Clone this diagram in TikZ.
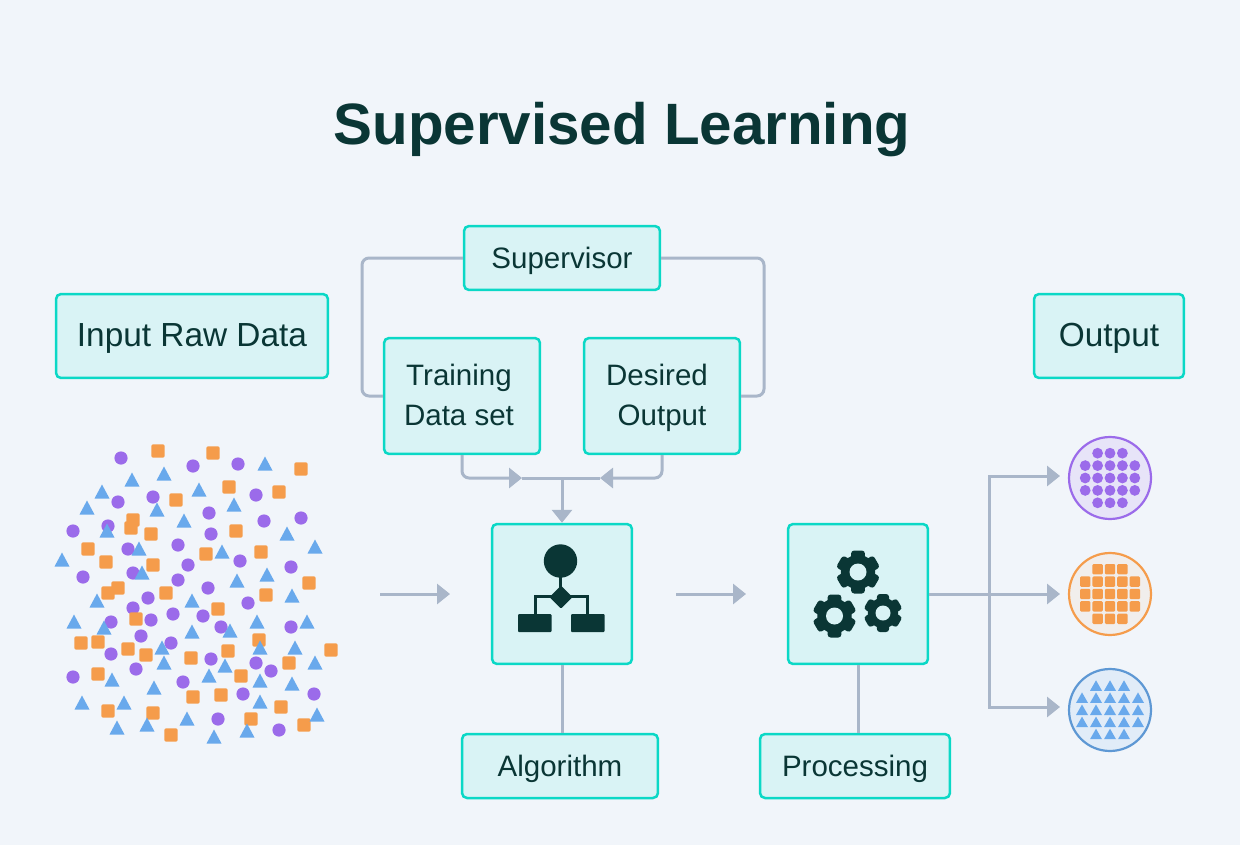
\documentclass[tikz,border=0pt]{standalone}
\usepackage{fontspec}
\setmainfont{Liberation Sans}
\usetikzlibrary{arrows.meta}
\definecolor{pagebg}{HTML}{F1F5FA}
\definecolor{boxfill}{HTML}{D9F3F5}
\definecolor{boxedge}{HTML}{0BD8C6}
\definecolor{ink}{HTML}{0A3635}
\definecolor{wirecol}{HTML}{A9B6C9}
\definecolor{dotpurple}{HTML}{9B6BEA}
\definecolor{dotorange}{HTML}{F59C4B}
\definecolor{dotblue}{HTML}{69A9EC}
\newcommand{\px}{0.569pt}
\newcommand{\clustergrid}[1]{%
    \foreach \j in {-2,2} \foreach \i in {-1,0,1} {#1}
    \foreach \j in {-1,0,1} \foreach \i in {-2,...,2} {#1}}
\newcommand{\gearicon}[4]{% x, y, outer radius, hole radius
    \fill[ink] (#1,#2) circle (#3*0.8);
    \foreach \a in {0,60,...,300}
        \fill[ink,rounded corners=3*\px,rotate around={\a:(#1,#2)}] (#1-#3*0.32,#2-#3) rectangle (#1+#3*0.32,#2);
    \fill[boxfill] (#1,#2) circle (#4);}
\tikzset{
    box/.style={draw=boxedge,fill=boxfill,line width=2.5*\px,rounded corners=5*\px,text=ink,
        inner sep=0pt,align=center,font=\fontsize{16.8}{22.7}\selectfont},
    bigbox/.style={box,font=\fontsize{19}{22.7}\selectfont},
    oneline/.style={text height=12pt,text depth=0pt},
    twolines/.style={text height=34pt,text depth=0pt},
    boxsize/.style 2 args={minimum width=#1*\px,minimum height=#2*\px},
    wire/.style={draw=wirecol,line width=3*\px},
    flow/.style={wire,-{Triangle[length=7.4pt,width=11.4pt]}},
    cluster/.style={circle,line width=2.2*\px,minimum size=82*\px,inner sep=0pt},
}
\begin{document}
\begin{tikzpicture}[x=0.02cm,y=-0.02cm]
    \useasboundingbox (0,0) rectangle (1240,845);
    \fill[pagebg] (0,0) rectangle (1240,845);
    \node[text=ink,font=\fontsize{33.2}{42}\selectfont\bfseries,text height=25pt,text depth=0pt] (title) at (622,122.5) {Supervised Learning};

    % boxes
    \node[bigbox,oneline,boxsize={272}{84}] (input) at (192,336) {Input Raw Data};
    \node[bigbox,oneline,boxsize={150}{84}] (output) at (1109,336) {Output};
    \node[box,oneline,boxsize={196}{64}] (supervisor) at (562,258) {Supervisor};
    \node[box,twolines,boxsize={156}{116}] (training) at (462,396) {Training\hspace{3.4pt}\null\\Data set\hspace{3.4pt}\null};
    \node[box,twolines,boxsize={156}{116}] (desired) at (662,396) {Desired\hspace{5.7pt}\null\\Output};
    \node[box,boxsize={140}{140}] (algoicon) at (562,594) {};
    \node[box,boxsize={140}{140}] (procicon) at (858,594) {};
    \node[box,oneline,boxsize={196}{64}] (algorithm) at (560,766) {Algorithm};
    \node[box,oneline,boxsize={190}{64}] (processing) at (855,766) {Processing};

    % free ends
    \coordinate (railL) at (362,320);
    \coordinate (railR) at (764,320);
    \coordinate (tipL) at (522,478);
    \coordinate (tipR) at (600,478);
    \coordinate (joint) at (562,478);
    \coordinate (inA) at (380,594);
    \coordinate (inB) at (450,594);
    \coordinate (midA) at (676,594);
    \coordinate (midB) at (746,594);
    \coordinate (fork) at (989,594);
    \coordinate (outA) at (1060,476);
    \coordinate (outB) at (1060,594);
    \coordinate (outC) at (1060,707);

    % connectors
    \draw[wire,rounded corners=7*\px] (supervisor.west) -| (railL) |- (training.west);
    \draw[wire,rounded corners=7*\px] (supervisor.east) -| (railR) |- (desired.east);
    \draw[flow,rounded corners=7*\px] (training.south) |- (tipL);
    \draw[flow,rounded corners=7*\px] (desired.south) |- (tipR);
    \draw[wire] (tipL) -- (tipR);
    \draw[flow] (joint) -- (algoicon.north);
    \draw[flow] (inA) -- (inB);
    \draw[flow] (midA) -- (midB);
    \draw[flow] (procicon.east) -- (outB);
    \draw[flow] (fork) |- (outA);
    \draw[flow] (fork) |- (outC);
    \draw[wire] (algoicon.south) -- (algoicon.south |- algorithm.north);
    \draw[wire] (procicon.south) -- (procicon.south |- processing.north);

    % flowchart icon
    \fill[ink] (560.5,561) circle (16.7);
    \draw[ink,line width=3*\px] (560.5,575) -- (560.5,590);
    \draw[ink,line width=3*\px] (535,615) |- (587,596) -- (587,615);
    \fill[ink,rounded corners=1*\px] (561,585.5) -- (572.5,597) -- (561,608.5) -- (549.5,597) -- cycle;
    \fill[ink,rounded corners=1*\px] (518,614) rectangle (551.5,632);
    \fill[ink,rounded corners=1*\px] (571,614) rectangle (604.5,632);

    % gears
    \gearicon{858}{572}{21.5}{8.5}
    \gearicon{834.5}{616}{21.5}{8.5}
    \gearicon{883}{613}{19}{7.5}

    % scattered data
    \foreach \x/\y in {121/458,193/466,238/464,256/495,153/497,118/502,209/513,264/521,301/518,73/531,108/526,
        211/534,178/545,128/549,240/561,188/565,291/567,83/577,133/573,178/580,208/588,148/598,133/608,248/603,
        111/622,151/620,173/614,203/616,221/627,291/627,141/636,171/643,111/654,211/659,256/663,271/671,136/669,
        73/677,183/682,243/694,314/694,218/719,279/730}
        \fill[dotpurple] (\x,\y) circle (6.6);
    \foreach \x/\y in {158/451,213/453,301/469,229/487,279/492,176/500,133/520,131/528,151/534,236/531,88/549,
        106/562,206/554,261/552,153/565,309/583,108/593,118/588,166/593,266/595,218/609,136/619,259/640,81/643,
        98/642,128/649,146/655,228/651,191/658,289/663,331/650,98/674,241/676,193/697,221/695,108/711,153/713,
        281/707,251/719,304/725,171/735}
        \fill[dotorange,rounded corners=2*\px] (\x,\y) ++(-6.7,-6.7) rectangle ++(13.4,13.4);
    \foreach \x/\y in {265/464,164/474,132/480,102/492,199/490,87/508,157/510,234/505,184/521,107/531,287/534,
        315/547,139/549,222/552,62/560,142/573,267/575,237/581,97/601,192/601,292/596,74/622,104/628,257/622,
        307/622,230/631,192/632,162/648,260/648,295/648,164/663,225/666,315/663,112/680,209/676,260/681,154/688,
        292/684,82/703,124/703,260/702,187/719,317/715,117/728,147/725,247/731,214/737}
        \fill[dotblue] (\x,\y) ++(-7.5,6.5) -- ++(15,0) -- ++(-7.5,-14) -- cycle;

    % output clusters
    \node[cluster,draw=dotpurple,fill=dotpurple!12!pagebg] (outpurple) at (1110,478) {};
    \node[cluster,draw=dotorange,fill=dotorange!8!pagebg] (outorange) at (1110,594) {};
    \node[cluster,draw=dotblue!90!black,fill=dotblue!12!pagebg] (outblue) at (1110,710) {};
    \clustergrid{\fill[dotpurple] (1110+12.4*\i,478+12.4*\j) circle (5.4);}
    \clustergrid{\fill[dotorange,rounded corners=1.2*\px] (1110+12.4*\i,594+12.4*\j) ++(-5.2,-5.2) rectangle ++(10.4,10.4);}
    \clustergrid{\fill[dotblue] (1110+14*\i,710+12.1*\j) ++(-6,5) -- ++(12,0) -- ++(-6,-10.5) -- cycle;}
\end{tikzpicture}
\end{document}
